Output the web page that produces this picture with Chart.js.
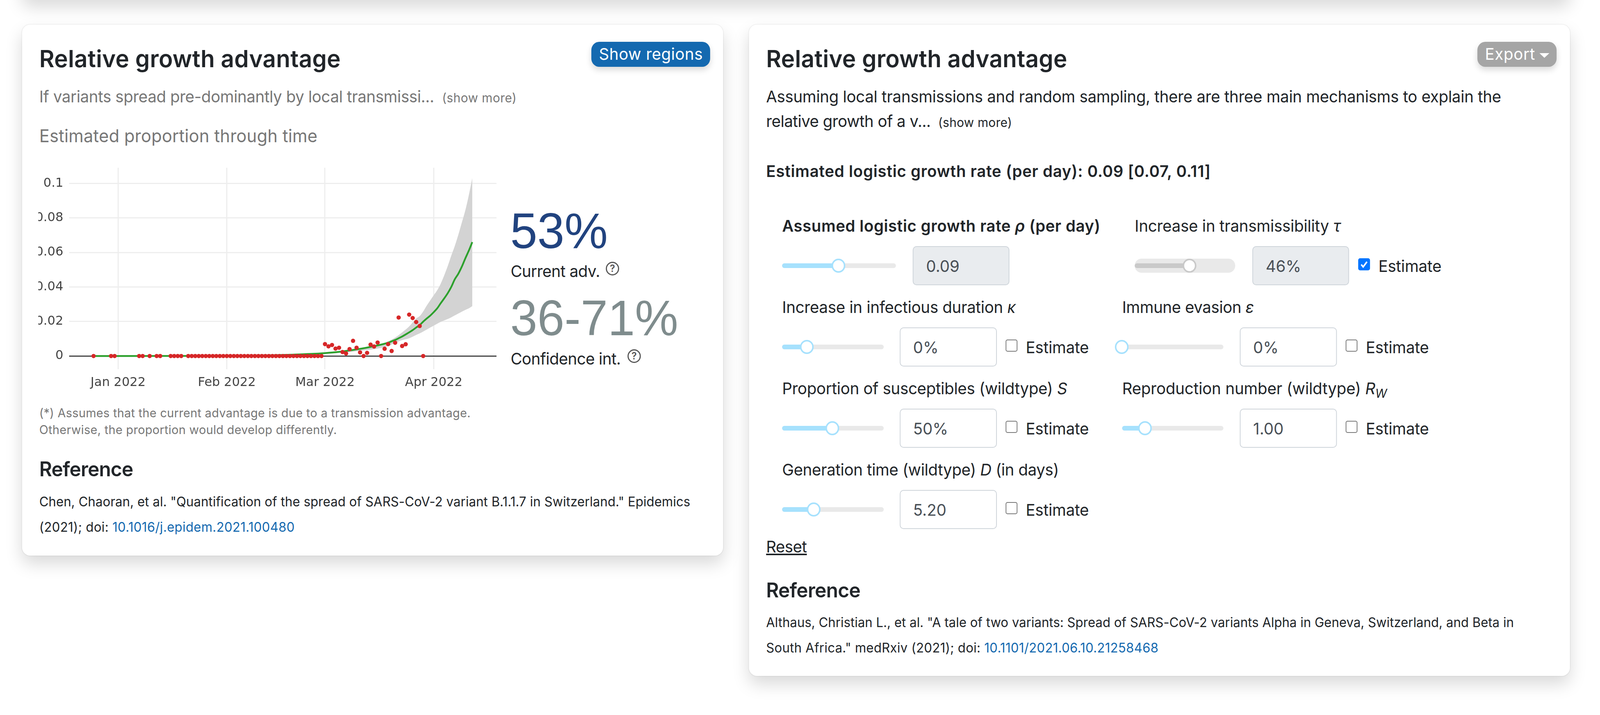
<!DOCTYPE html>
<html>
<head>
<meta charset="utf-8">
<title>Relative growth advantage</title>
<script src="https://cdn.jsdelivr.net/npm/chart.js@4"></script>
<style>
  html, body { margin: 0; padding: 0; background: #fff; overflow: hidden; }
  body { font-family: Inter, sans-serif; color: #212529; }
  /* layout is written in reference pixels; the window is 4096 wide, so squeeze to fit */
  #page { position: absolute; left: 0; top: 0; width: 4202px; height: 1830px; transform: scaleX(0.97477); transform-origin: 0 0; }
  .card { position: absolute; background: #fff; border-radius: 21px; box-shadow: 0 21px 43px rgba(0,0,0,.15), 0 0 0 2px rgba(0,0,0,.04); }
  /* strut puts the text baseline exactly at --b */
  .t { position: absolute; top: calc(var(--b) - 200px); line-height: 0; white-space: nowrap; font-size: 41.5px; }
  .t::before { content: ""; display: inline-block; height: 200px; }
  .h1 { font-size: 61px; font-weight: 600; }
  .h2 { font-size: 51.5px; font-weight: 600; }
  .grey { color: #777; }
  .more { font-size: 32px; }
  .note { font-size: 31px; }
  .ref { font-size: 33.5px; }
  a { color: #1469b0; text-decoration: none; }
  .big { font-family: "Liberation Sans", sans-serif; font-size: 128px; }
  .btn { position: absolute; top: 107px; height: 64px; border-radius: 21px; box-shadow: 0 8px 16px rgba(0,0,0,.15); }
  .caret { position: absolute; left: 4043px; top: 136px; width: 0; height: 0; border-left: 13px solid transparent; border-right: 13px solid transparent; border-top: 12px solid #fff; }
  .help { position: absolute; width: 29px; height: 29px; border: 3px solid #555; border-radius: 50%; font-size: 25px; line-height: 29px; text-align: center; color: #555; font-weight: 600; }
  .track { position: absolute; height: 12px; background: #e9e9e9; border-radius: 6px; }
  .fill { position: absolute; height: 12px; background: #a6e1fd; border-radius: 6px 0 0 6px; }
  .knob { position: absolute; width: 28px; height: 28px; background: #fff; border: 4px solid #a6e1fd; border-radius: 50%; }
  .input { position: absolute; height: 96px; border: 2px solid #ced4da; border-radius: 10px; background: #fff; }
  .input.off { background: #e9ecef; }
  .box { position: absolute; width: 27px; height: 27px; border: 2.5px solid #767676; border-radius: 5px; background: #fff; }
  .box.on { background: #0075ff; border-color: #0075ff; }
  .box svg { position: absolute; left: 0; top: 0; }
  .val { color: #495057; }
  #growthChart { position: absolute; left: 97.5px; top: 395px; }
</style>
</head>
<body>
<div id="page">

<!-- bottom of the card above -->
<div class="card" style="left:58px;top:-400px;width:4065px;height:397px"></div>

<!-- left card -->
<div class="card" style="left:58px;top:63px;width:1841px;height:1359px"></div>
<div class="t h1" data-w="792" style="left:103px;--b:172px">Relative growth advantage</div>
<div class="btn" style="left:1553px;width:312px;background:#1469b0"></div>
<div class="t" data-w="273" style="left:1573px;--b:153px;color:#fff">Show regions</div>
<div class="t grey" data-w="1037" style="left:103px;--b:262px">If variants spread pre-dominantly by local transmissi...</div>
<div class="t grey more" data-w="196" style="left:1161px;--b:262px">(show more)</div>
<div class="t grey" data-w="731" style="left:103px;--b:364px;font-size:45px">Estimated proportion through time</div>

<div class="t big" style="left:1340px;--b:635px;color:#21437f">53%</div>
<div class="t" data-w="234" style="left:1341px;--b:709px">Current adv.</div>
<div class="help" style="left:1591px;top:670px">?</div>
<div class="t big" style="left:1340px;--b:858px;color:#7f8c8d">36-71%</div>
<div class="t" data-w="289" style="left:1341px;--b:933px">Confidence int.</div>
<div class="help" style="left:1648px;top:894px">?</div>

<div class="t grey note" data-w="1133" style="left:103px;--b:1068px">(*) Assumes that the current advantage is due to a transmission advantage.</div>
<div class="t grey note" data-w="782" style="left:103px;--b:1111px">Otherwise, the proportion would develop differently.</div>
<div class="t h2" data-w="246" style="left:103px;--b:1219px">Reference</div>
<div class="t ref" data-w="1710" style="left:103px;--b:1296px">Chen, Chaoran, et al. "Quantification of the spread of SARS-CoV-2 variant B.1.1.7 in Switzerland." Epidemics</div>
<div class="t ref" data-w="671" style="left:103px;--b:1361px">(2021); doi: <a>10.1016/j.epidem.2021.100480</a></div>

<!-- right card -->
<div class="card" style="left:1967px;top:63px;width:2156px;height:1667px"></div>
<div class="t h1" data-w="791" style="left:2012px;--b:172px">Relative growth advantage</div>
<div class="btn" style="left:3880px;width:208px;background:#a5a5a5"></div>
<div class="t" data-w="132" style="left:3900px;--b:153px;color:#fff">Export</div>
<div class="caret"></div>
<div class="t" data-w="1930" style="left:2012px;--b:262px">Assuming local transmissions and random sampling, there are three main mechanisms to explain the</div>
<div class="t" data-w="432" style="left:2012px;--b:325px">relative growth of a v...</div>
<div class="t more" data-w="194" style="left:2464px;--b:325px">(show more)</div>
<div class="t" data-w="1167" style="left:2012px;--b:453px;font-weight:600">Estimated logistic growth rate (per day): 0.09 [0.07, 0.11]</div>

<!-- row 1 -->
<div class="t" data-w="836" style="left:2054px;--b:593px;font-weight:600">Assumed logistic growth rate <i>&rho;</i> (per day)</div>
<div class="t" data-w="541" style="left:2980px;--b:593px">Increase in transmissibility <i>&tau;</i></div>
<div class="track" style="left:2054px;top:674px;width:299px"></div>
<div class="fill" style="left:2054px;top:674px;width:148px"></div>
<div class="knob" style="left:2184px;top:662px"></div>
<div class="input off" style="left:2397px;top:630px;width:250px"></div>
<div class="t val" style="left:2432px;--b:696px">0.09</div>
<div class="track" style="left:2980px;top:662px;width:264px;height:36px;border-radius:18px"></div>
<div class="fill" style="left:2980px;top:674px;width:144px;background:#c9c9c9"></div>
<div class="knob" style="left:3106px;top:662px;border-color:#c9c9c9"></div>
<div class="input off" style="left:3289px;top:630px;width:250px"></div>
<div class="t val" style="left:3324px;--b:696px">46%</div>
<div class="box on" style="left:3567px;top:661px"><svg width="27" height="27" viewBox="0 0 27 27"><path d="M6 14l5 6 10-13" fill="none" stroke="#fff" stroke-width="4"/></svg></div>
<div class="t" data-w="166" style="left:3620px;--b:696px">Estimate</div>

<!-- row 2 -->
<div class="t" data-w="613" style="left:2054px;--b:801px">Increase in infectious duration <i>&kappa;</i></div>
<div class="t" data-w="346" style="left:2947px;--b:801px">Immune evasion <i>&epsilon;</i></div>
<div class="track" style="left:2054px;top:882px;width:267px"></div>
<div class="fill" style="left:2054px;top:882px;width:65px"></div>
<div class="knob" style="left:2101px;top:870px"></div>
<div class="input" style="left:2363px;top:838px;width:251px"></div>
<div class="t val" style="left:2398px;--b:904px">0%</div>
<div class="box" style="left:2641px;top:869px"></div>
<div class="t" data-w="166" style="left:2694px;--b:904px">Estimate</div>
<div class="track" style="left:2947px;top:882px;width:266px"></div>
<div class="knob" style="left:2928px;top:870px"></div>
<div class="input" style="left:3256px;top:838px;width:251px"></div>
<div class="t val" style="left:3291px;--b:904px">0%</div>
<div class="box" style="left:3534px;top:869px"></div>
<div class="t" data-w="166" style="left:3587px;--b:904px">Estimate</div>

<!-- row 3 -->
<div class="t" data-w="749" style="left:2054px;--b:1009px">Proportion of susceptibles (wildtype) <i>S</i></div>
<div class="t" data-w="695" style="left:2947px;--b:1009px">Reproduction number (wildtype) <i>R<sub style="line-height:0;font-size:31px">W</sub></i></div>
<div class="track" style="left:2054px;top:1090px;width:267px"></div>
<div class="fill" style="left:2054px;top:1090px;width:132px"></div>
<div class="knob" style="left:2168px;top:1078px"></div>
<div class="input" style="left:2363px;top:1046px;width:251px"></div>
<div class="t val" style="left:2398px;--b:1112px">50%</div>
<div class="box" style="left:2641px;top:1077px"></div>
<div class="t" data-w="166" style="left:2694px;--b:1112px">Estimate</div>
<div class="track" style="left:2947px;top:1090px;width:266px"></div>
<div class="fill" style="left:2947px;top:1090px;width:60px"></div>
<div class="knob" style="left:2989px;top:1078px"></div>
<div class="input" style="left:3256px;top:1046px;width:251px"></div>
<div class="t val" style="left:3291px;--b:1112px">1.00</div>
<div class="box" style="left:3534px;top:1077px"></div>
<div class="t" data-w="166" style="left:3587px;--b:1112px">Estimate</div>

<!-- row 4 -->
<div class="t" data-w="727" style="left:2054px;--b:1217px">Generation time (wildtype) <i>D</i> (in days)</div>
<div class="track" style="left:2054px;top:1298px;width:267px"></div>
<div class="fill" style="left:2054px;top:1298px;width:83px"></div>
<div class="knob" style="left:2119px;top:1286px"></div>
<div class="input" style="left:2363px;top:1254px;width:251px"></div>
<div class="t val" style="left:2398px;--b:1320px">5.20</div>
<div class="box" style="left:2641px;top:1285px"></div>
<div class="t" data-w="166" style="left:2694px;--b:1320px">Estimate</div>

<div class="t" data-w="107" style="left:2012px;--b:1414px;text-decoration:underline">Reset</div>
<div class="t h2" data-w="247" style="left:2012px;--b:1529px">Reference</div>
<div class="t ref" data-w="1964" style="left:2012px;--b:1605px">Althaus, Christian L., et al. "A tale of two variants: Spread of SARS-CoV-2 variants Alpha in Geneva, Switzerland, and Beta in</div>
<div class="t ref" data-w="1031" style="left:2012px;--b:1670px">South Africa." medRxiv (2021); doi: <a>10.1101/2021.06.10.21258468</a></div>
</div>

<canvas id="growthChart" width="1173" height="620"></canvas>

<script>
// days counted from 1 Jan 2022
const xTickDays = [0, 31, 59, 90];
const xTickLabels = ["Jan 2022", "Feb 2022", "Mar 2022", "Apr 2022"];
const yTickValues = [0, 0.02, 0.04, 0.06, 0.08, 0.1];
const yTickLabels = ["0", "0.02", "0.04", "0.06", "0.08", "0.1"];

const dotDays = [-7, -2, -1, 6, 7, 9, 11, 12, 15, 16, 17, 18,
  20, 21, 22, 23, 24, 25, 26, 27, 28, 29, 30, 31, 32, 33, 34, 35, 36, 37, 38,
  39, 40, 41, 42, 43, 44, 45, 46, 47, 48, 49, 50, 51, 52, 53, 54, 55, 56, 57, 58,
  59, 60, 61, 62, 63, 64, 65, 66, 67, 68, 69, 70, 71, 72, 73, 74, 75, 76, 77, 78,
  79, 80, 81, 82, 83, 84, 85, 86, 87];
const dotValues = [0, 0, 0, 0, 0, 0, 0, 0, 0, 0, 0, 0,
  0, 0, 0, 0, 0, 0, 0, 0, 0, 0, 0, 0, 0, 0, 0, 0, 0, 0, 0,
  0, 0, 0, 0, 0, 0, 0, 0, 0, 0, 0, 0, 0, 0, 0, 0, 0, 0, 0, 0,
  0.0069, 0.0056, 0.0064, 0.0043, 0.0048, 0.0023, 0.0015, 0.0040, 0.0088, 0.0048, 0.0021, 0, 0.0018, 0.0066, 0.0055, 0.0078, 0, 0.0042, 0.0069, 0.0029,
  0.0077, 0.0223, 0.0058, 0.0068, 0.0240, 0.0220, 0.0197, 0.0174, 0];

const lineDays = [-7, 18, 30, 40, 45, 50, 55, 59, 63, 66, 70, 73, 75, 77, 78, 79, 80, 81, 82, 83, 84, 85, 86, 87, 88, 89, 90, 91, 92, 93, 94, 95, 96, 97, 98, 99, 100, 101];
const lineValues = [0, 0.00003, 0.0001, 0.0003, 0.0005, 0.0008, 0.0012, 0.0017, 0.0024, 0.0032, 0.0045, 0.0057, 0.0066, 0.0077, 0.0085, 0.0093, 0.0103, 0.0113, 0.0125, 0.0137, 0.0150, 0.0165, 0.0179, 0.0199, 0.0217, 0.0234, 0.0254, 0.0276, 0.0306, 0.0334, 0.0364, 0.0400, 0.0444, 0.0476, 0.0517, 0.0565, 0.0610, 0.0660];

const bandDays = [-7, 40, 50, 59, 70, 75, 77, 79, 81, 83, 85, 86, 87, 88, 89, 90, 91, 92, 94, 95, 96, 97, 98, 99, 100, 101];
const bandUpper = [0.0001, 0.0004, 0.0011, 0.0020, 0.0048, 0.0069, 0.0085, 0.0107, 0.0137, 0.0171, 0.0217, 0.0231, 0.0258, 0.0292, 0.0322, 0.0352, 0.0381, 0.0419, 0.0521, 0.0581, 0.0637, 0.0701, 0.0772, 0.0843, 0.0931, 0.1031];
const bandLower = [0, 0.0002, 0.0005, 0.0011, 0.0032, 0.0047, 0.0058, 0.0077, 0.0092, 0.0103, 0.0122, 0.0131, 0.0142, 0.0153, 0.0165, 0.0176, 0.0187, 0.0198, 0.0214, 0.0224, 0.0235, 0.0246, 0.0257, 0.0267, 0.0276, 0.0289];

// Inter runs wider than the reference's font, so tighten each text to its measured width
document.querySelectorAll(".t[data-w]").forEach(el => {
  const extra = Number(el.dataset.w) - el.offsetWidth;
  el.style.letterSpacing = (extra / el.textContent.length) + "px";
});

const xy = (xs, ys) => xs.map((x, i) => ({ x: x, y: ys[i] }));

new Chart(document.getElementById("growthChart"), {
  type: "line",
  data: {
    datasets: [
      { data: xy(bandDays, bandLower), borderWidth: 0, pointRadius: 0, fill: false, order: 3, cubicInterpolationMode: "monotone" },
      { data: xy(bandDays, bandUpper), borderWidth: 0, pointRadius: 0, fill: 0, backgroundColor: "#d3d3d3", order: 3, cubicInterpolationMode: "monotone" },
      { data: xy(lineDays, lineValues), borderColor: "#2ca02c", borderWidth: 4.5, pointRadius: 0, fill: false, order: 2, cubicInterpolationMode: "monotone" },
      { data: xy(dotDays, dotValues), showLine: false, pointRadius: 5.5, pointBorderWidth: 0, pointBackgroundColor: "#d62728", order: 1 }
    ]
  },
  options: {
    responsive: false,
    devicePixelRatio: 1,
    animation: false,
    layout: { autoPadding: false, padding: 0 },
    plugins: { legend: { display: false }, tooltip: { enabled: false } },
    scales: {
      x: {
        type: "linear", min: -13.96, max: 107.9,
        afterBuildTicks: axis => { axis.ticks = xTickDays.map(v => ({ value: v })); },
        afterFit: axis => { axis.height = 70; },
        border: { display: false },
        grid: { color: "#eeeeee", lineWidth: 3, drawTicks: false },
        ticks: {
          autoSkip: false, maxRotation: 0, padding: 15, color: "#444",
          font: { family: "DejaVu Sans", size: 32 },
          callback: v => xTickLabels[xTickDays.indexOf(v)]
        }
      },
      y: {
        type: "linear", min: -0.00766, max: 0.1091,
        afterBuildTicks: axis => { axis.ticks = yTickValues.map(v => ({ value: v })); },
        afterFit: axis => { axis.width = 79; },
        border: { display: false },
        grid: {
          color: ctx => ctx.tick && ctx.tick.value === 0 ? "#444444" : "#eeeeee",
          lineWidth: 3, drawTicks: false
        },
        ticks: {
          autoSkip: false, padding: 15, color: "#444",
          font: { family: "DejaVu Sans", size: 32 },
          callback: v => yTickLabels[yTickValues.indexOf(v)]
        }
      }
    }
  }
});
</script>
</body>
</html>
